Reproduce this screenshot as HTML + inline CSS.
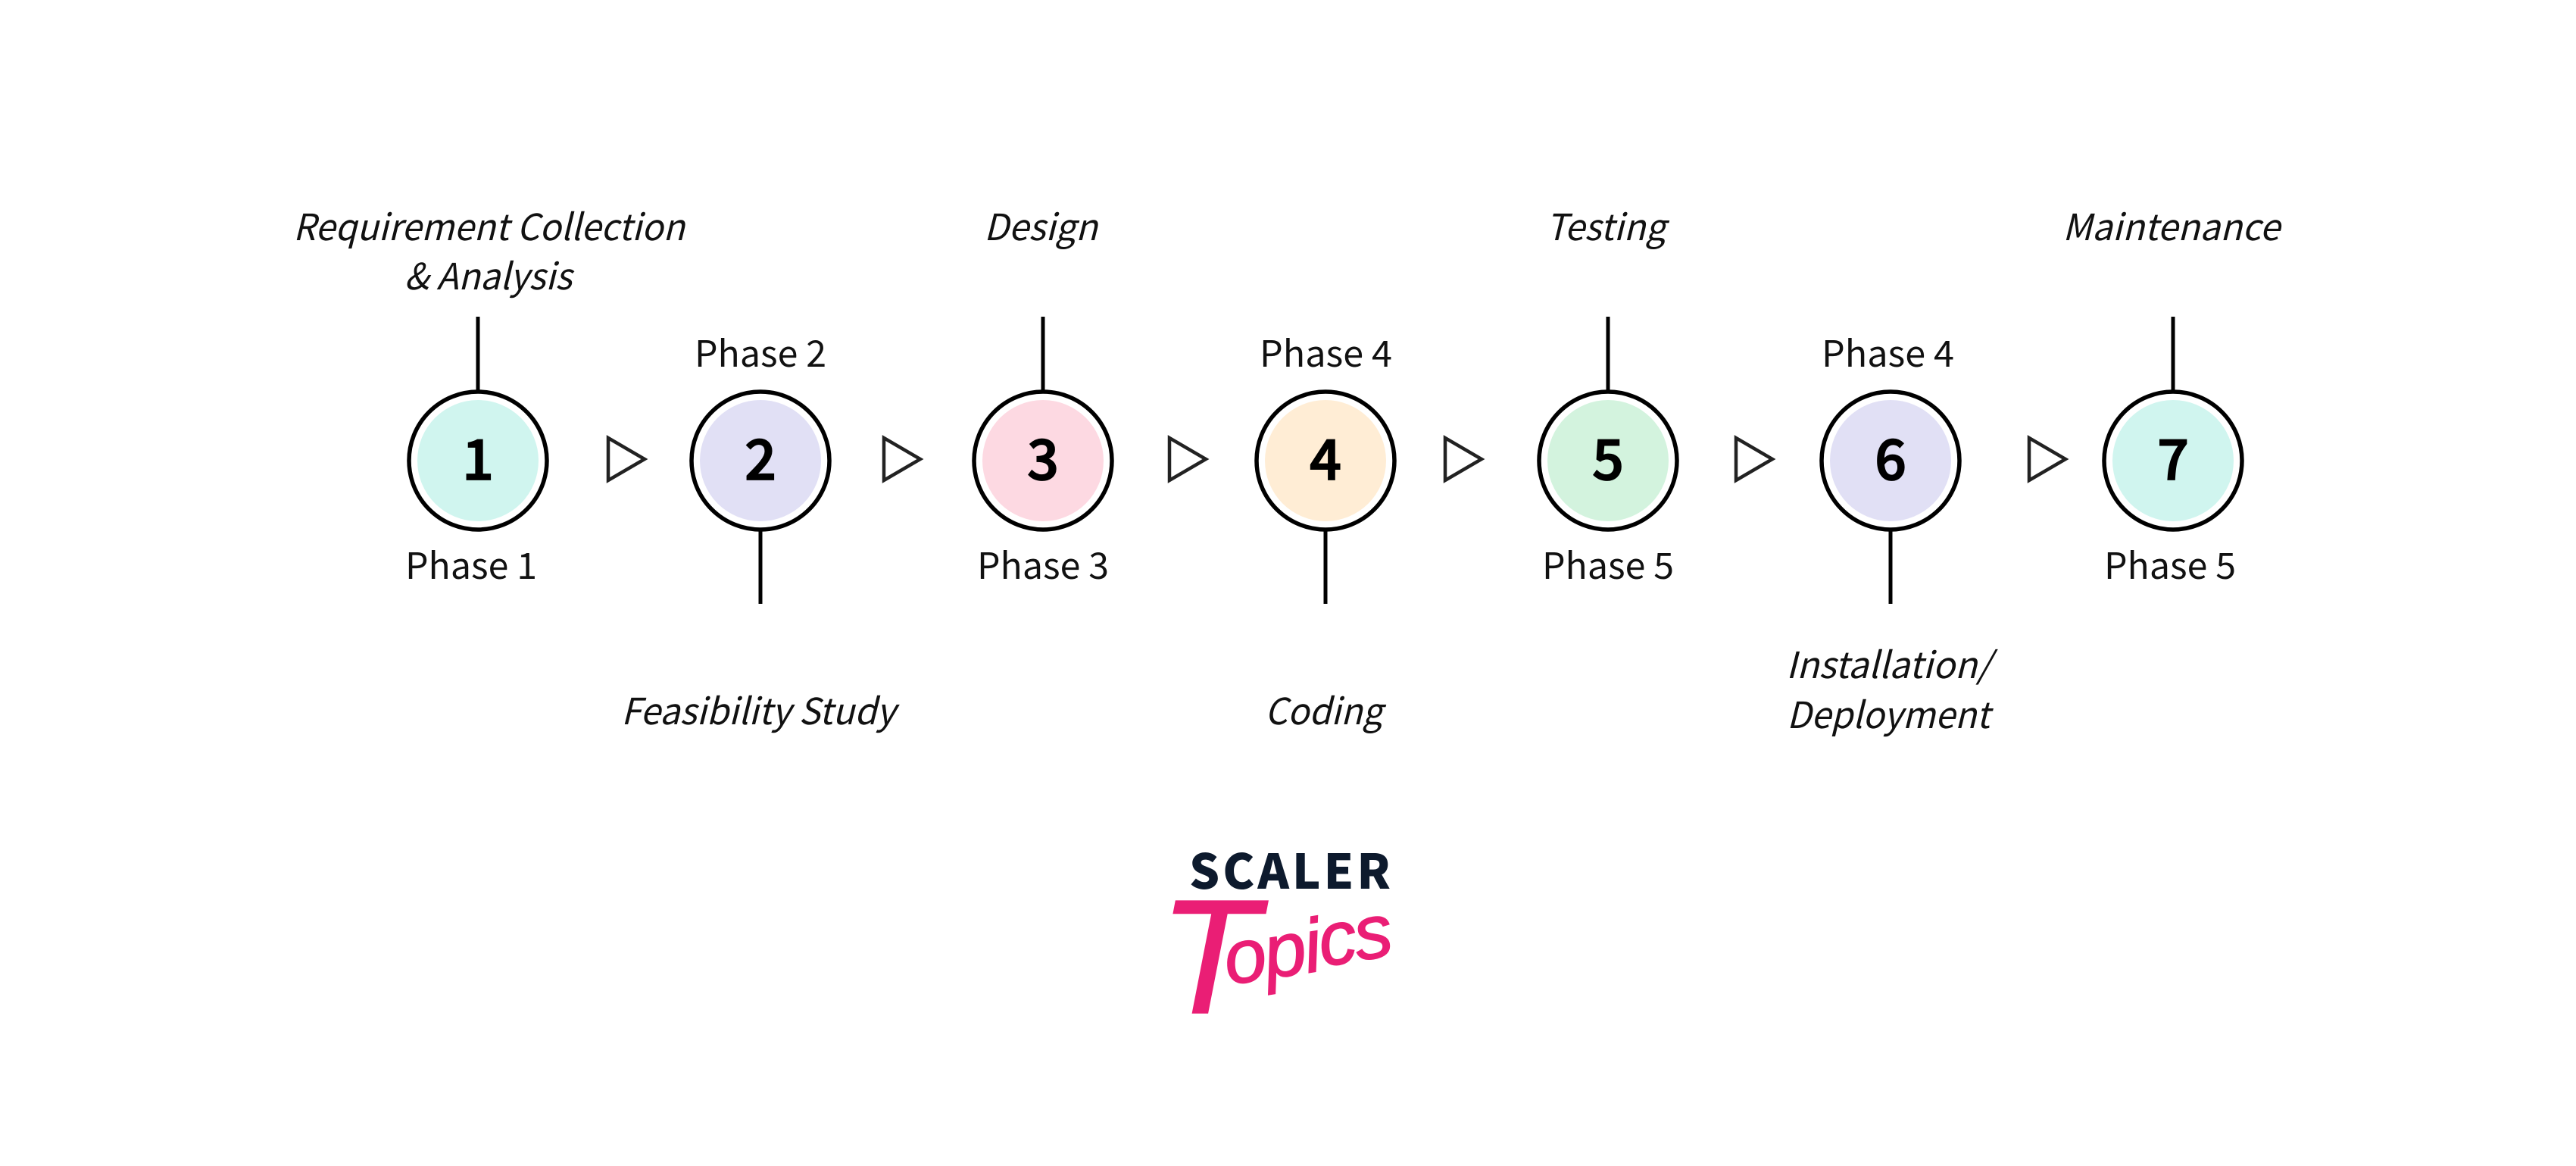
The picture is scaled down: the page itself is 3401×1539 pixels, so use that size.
<!DOCTYPE html>
<html><head><meta charset="utf-8"><style>
html,body{margin:0;padding:0;background:#fff}
svg{display:block}
.t{font-family:"Noto Sans CJK JP","Liberation Sans",sans-serif;font-size:48px;fill:#111}
.i{font-style:italic}
.n{font-family:"Noto Sans CJK JP","Liberation Sans",sans-serif;font-size:73px;font-weight:500;fill:#000;stroke:#000;stroke-width:1.8px;text-anchor:middle}
</style></head><body>
<svg width="3401" height="1539" viewBox="0 0 3401 1539" xmlns="http://www.w3.org/2000/svg">
<rect width="3401" height="1539" fill="#fff"/>
<g stroke="#000" stroke-width="5" fill="none">
<path d="M631 418V516M1004 700V797M1377 418V516M1750 700V797M2123 418V516M2496 700V797M2869 418V516"/>
</g>
<g stroke="#000" stroke-width="5.5" fill="#fff">
<circle cx="631" cy="608" r="91"/><circle cx="1004" cy="608" r="91"/><circle cx="1377" cy="608" r="91"/><circle cx="1750" cy="608" r="91"/><circle cx="2123" cy="608" r="91"/><circle cx="2496" cy="608" r="91"/><circle cx="2869" cy="608" r="91"/>
</g>
<circle cx="631" cy="608" r="80" fill="#d0f5ef"/>
<circle cx="1004" cy="608" r="80" fill="#e1e0f5"/>
<circle cx="1377" cy="608" r="80" fill="#fdd9e2"/>
<circle cx="1750" cy="608" r="80" fill="#ffedd5"/>
<circle cx="2123" cy="608" r="80" fill="#d3f3de"/>
<circle cx="2496" cy="608" r="80" fill="#e1e0f5"/>
<circle cx="2869" cy="608" r="80" fill="#d0f5ef"/>
<text class="n" x="631" y="633">1</text>
<text class="n" x="1004" y="633">2</text>
<text class="n" x="1377" y="633">3</text>
<text class="n" x="1750" y="633">4</text>
<text class="n" x="2123" y="633">5</text>
<text class="n" x="2496" y="633">6</text>
<text class="n" x="2869" y="633">7</text>
<g fill="none" stroke="#222" stroke-width="4.5">
<path d="M803 578V634L851 606Z"/>
<path d="M1167 578V634L1215 606Z"/>
<path d="M1544 578V634L1592 606Z"/>
<path d="M1908 578V634L1956 606Z"/>
<path d="M2292 578V634L2340 606Z"/>
<path d="M2679 578V634L2727 606Z"/>
</g>
<g class="t">
<text x="535" y="764" textLength="174" lengthAdjust="spacingAndGlyphs">Phase 1</text>
<text x="917" y="484" textLength="174" lengthAdjust="spacingAndGlyphs">Phase 2</text>
<text x="1290" y="764" textLength="174" lengthAdjust="spacingAndGlyphs">Phase 3</text>
<text x="1663" y="484" textLength="175" lengthAdjust="spacingAndGlyphs">Phase 4</text>
<text x="2036" y="764" textLength="174" lengthAdjust="spacingAndGlyphs">Phase 5</text>
<text x="2405" y="484" textLength="175" lengthAdjust="spacingAndGlyphs">Phase 4</text>
<text x="2778" y="764" textLength="174" lengthAdjust="spacingAndGlyphs">Phase 5</text>
</g>
<g class="t i">
<text x="387" y="317" textLength="517" lengthAdjust="spacingAndGlyphs">Requirement Collection</text>
<text x="534" y="382" textLength="221" lengthAdjust="spacingAndGlyphs">&amp; Analysis</text>
<text x="820" y="956" textLength="362" lengthAdjust="spacingAndGlyphs">Feasibility Study</text>
<text x="1299" y="317" textLength="150" lengthAdjust="spacingAndGlyphs">Design</text>
<text x="1670" y="956" textLength="155" lengthAdjust="spacingAndGlyphs">Coding</text>
<text x="2041" y="317" textLength="158" lengthAdjust="spacingAndGlyphs">Testing</text>
<text x="2358" y="895" textLength="271" lengthAdjust="spacingAndGlyphs">Installation/</text>
<text x="2359" y="961" textLength="268" lengthAdjust="spacingAndGlyphs">Deployment</text>
<text x="2723" y="317" textLength="287" lengthAdjust="spacingAndGlyphs">Maintenance</text>
</g>
<text x="1570" y="1173" font-family="Noto Sans CJK JP, Liberation Sans, sans-serif" font-weight="900" font-size="63" fill="#0d1a2d" textLength="266" lengthAdjust="spacing">SCALER</text>
<text x="1530" y="1337" font-family="Liberation Sans, sans-serif" font-style="italic" fill="#ea1e75" stroke="#ea1e75" stroke-width="1.5"><tspan font-size="215">T</tspan><tspan font-size="100" dx="-40 -3 -3 -3 -3" dy="-37 -8 -8 -8 -8" rotate="-9">opics</tspan></text>
</svg>
</body></html>
